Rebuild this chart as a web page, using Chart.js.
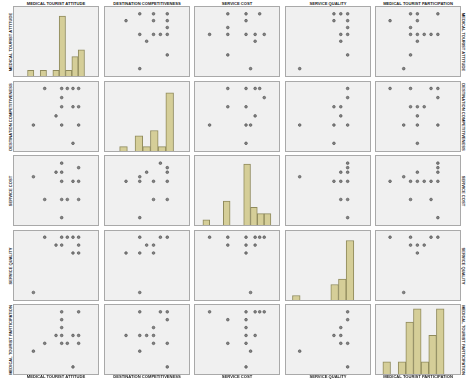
<!DOCTYPE html>
<html><head><meta charset="utf-8">
<script src="https://cdn.jsdelivr.net/npm/chart.js@4.4.1/dist/chart.umd.min.js"></script>
<style>
html,body{margin:0;padding:0;background:#fff;}
body{width:474px;height:380px;overflow:hidden;position:relative;font-family:"Liberation Sans",Arial,sans-serif;}
canvas{position:absolute;}
.lbl{position:absolute;font-weight:bold;font-size:4.1px;color:#1a1a1a;white-space:nowrap;line-height:1;}
</style></head><body>
<script>
// ---------------- DATA ----------------
const variables = ["MEDICAL TOURIST ATTITUDE","DESTINATION COMPETITIVENESS","SERVICE COST","SERVICE QUALITY","MEDICAL TOURIST PARTICIPATION"];

// respondent scores (score levels), one entry per respondent
const obsMTA = [0,2,4,6,7,7,7,5,5,5,5,5,5,5,5,5,8,8,8,8];
const obsDC  = [2,6,3,6,6,0,4,2,5,6,6,6,4,4,4,6,6,4,2,6];
const obsSC  = [9,4,10,4,8,8,8,0,12,10,4,8,8,8,8,8,11,4,8,8];
const obsSQ  = [0,7,6,7,7,5,5,7,7,7,7,7,6,6,6,7,7,6,5,7];
const obsMTP = [2,3,4,3,0,4,4,7,7,7,6,6,5,3,4,7,7,3,4,3];

// histogram bins (score level at bin centre) and counts as shown
const binsMTA = [0,1,2,3,4,5,6,7,8];
const countMTA = [1,0,1,0,1,9,1,3,4];
const binsDC = [0,1,2,3,4,5,6];
const countDC = [1,0,3,1,4,1,11];
const binsSC = [0,1.333,2.667,4,5.333,6.667,8,9.333,10.667,12];
const countSC = [1,0,0,4,0,0,10,3,2,2];
const binsSQ = [0,1,2,3,4,5,6,7];
const countSQ = [1,0,0,0,0,3,4,11];
const binsMTP = [0,1,2,3,4,5,6,7];
const countMTP = [1,0,1,4,5,1,3,5];

// ---------------- LAYOUT / SCALES ----------------
const colLeft = [13,104,194,285,375], rowTop = [6,81,155,230,304];
const PW = 86, PH = 71;
// pixel position of score 0 and pixels per score unit, per variable
const xAnchor = [[30.7,6.33],[123.5,7.7],[206.3,5.1],[296.3,7.67],[386.7,7.65]];
const yAnchor = [[72.7,7.875],[147.3,10.5],[221.7,5.22],[296.5,9.07],[371,9.04]];
const histYMax = [10.47,13.2,11.45,12.9,5.37];

const obs = [obsMTA,obsDC,obsSC,obsSQ,obsMTP];
const hist = [[binsMTA,countMTA],[binsDC,countDC],[binsSC,countSC],[binsSQ,countSQ],[binsMTP,countMTP]];

function xRange(j){const [p0,d]=xAnchor[j];const mn=-(p0-colLeft[j])/d;return [mn,mn+PW/d];}
function yRange(i){const [p0,d]=yAnchor[i];const mn=-(rowTop[i]+PH-p0)/d;return [mn,mn+PH/d];}

const panelPlugin = {
  id:'panel',
  beforeDraw(c){const g=c.ctx;g.save();g.fillStyle='#f0f0f0';g.fillRect(0,0,c.width,c.height);g.restore();},
  afterDraw(c){const g=c.ctx;g.save();g.strokeStyle='#a9a9a9';g.lineWidth=1;g.strokeRect(0.5,0.5,c.width-1,c.height-1);g.restore();}
};

function makeCanvas(i,j){
  const cv=document.createElement('canvas');
  cv.width=PW;cv.height=PH;
  cv.style.left=colLeft[j]+'px';cv.style.top=rowTop[i]+'px';
  cv.style.width=PW+'px';cv.style.height=PH+'px';
  document.body.appendChild(cv);
  return cv;
}

const common = {
  responsive:false, animation:false, devicePixelRatio:1,
  layout:{padding:0},
  plugins:{legend:{display:false},tooltip:{enabled:false}},
  events:[]
};

for(let i=0;i<5;i++){
  for(let j=0;j<5;j++){
    const cv=makeCanvas(i,j);
    const [xmn,xmx]=xRange(j);
    if(i===j){
      const [b,cnt]=hist[i];
      new Chart(cv,{type:'bar',
        data:{datasets:[{data:b.map((v,k)=>({x:v,y:cnt[k]})),backgroundColor:'#d5ce98',borderColor:'#8f8a5c',borderWidth:1,barPercentage:1,categoryPercentage:1,borderSkipped:false}]},
        options:{...common,scales:{x:{type:'linear',display:false,min:xmn,max:xmx,offset:false},y:{display:false,min:0,max:histYMax[i]}}},
        plugins:[panelPlugin]});
    } else {
      const [ymn,ymx]=yRange(i);
      const seen=new Set(), pts=[];
      obs[j].forEach((xv,k)=>{const yv=obs[i][k];const key=xv+'|'+yv;if(!seen.has(key)){seen.add(key);pts.push({x:xv,y:yv});}});
      new Chart(cv,{type:'scatter',
        data:{datasets:[{data:pts,pointRadius:1.35,pointBackgroundColor:'#858585',pointBorderColor:'#4a4a4a',pointBorderWidth:0.6}]},
        options:{...common,scales:{x:{type:'linear',display:false,min:xmn,max:xmx},y:{type:'linear',display:false,min:ymn,max:ymx}}},
        plugins:[panelPlugin]});
    }
  }
}

// ---------------- LABELS ----------------
function label(text,x,y,rot){
  const d=document.createElement('div');d.className='lbl';d.textContent=text;
  d.style.left=x+'px';d.style.top=y+'px';
  d.style.transform='translate(-50%,-50%) rotate('+rot+'deg)';
  document.body.appendChild(d);
}
for(let k=0;k<5;k++){
  const cx=colLeft[k]+PW/2, cy=rowTop[k]+PH/2;
  label(variables[k],cx,4,0);
  label(variables[k],cx,377,0);
  label(variables[k],10.5,cy,-90);
  label(variables[k],463,cy,90);
}
</script>
</body></html>
